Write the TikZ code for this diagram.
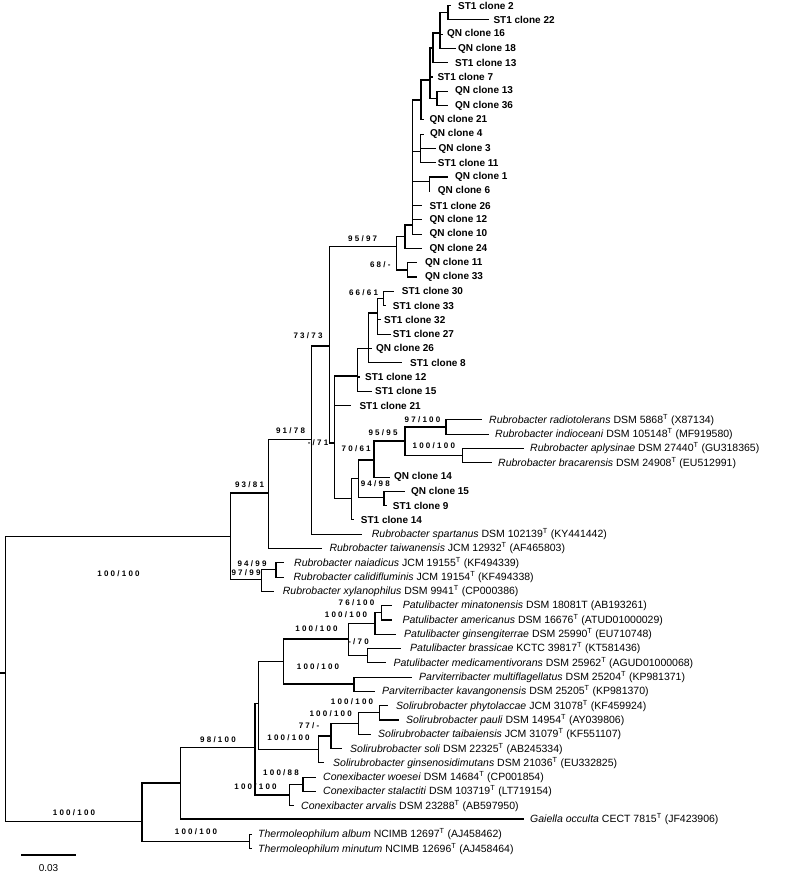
\documentclass[tikz,border=0pt]{standalone}
\usepackage{fontspec}
\setmainfont{Liberation Sans}
\newfontfamily\labfam{Liberation Sans}[LetterSpace=28]
\newcommand\hb[3]{\draw[br] (#1,#3) -- (#2,#3);}
\newcommand\vb[3]{\draw[br] (#1,#2) -- (#1,#3);}
\newcommand\cl[4]{\node[clone] (#1) at (#2,#3) {#4};}
\newcommand\spn[5]{\node[spc] (#1) at (#2,#3) {\textit{#4} #5};}
\newcommand\lb[3]{\node[lab] at (#1,#2) {#3};}
\newcommand\Ts{\textsuperscript{T}}
\tikzset{
  br/.style={line width=1.1pt, line cap=rect},
  clone/.style={anchor=west, inner sep=0pt, font=\bfseries\fontsize{10}{12}\selectfont},
  spc/.style={anchor=west, inner sep=0pt, font=\fontsize{10.5}{12}\selectfont},
  lab/.style={inner sep=0pt, font=\labfam\bfseries\fontsize{8}{9}\selectfont}
}
\begin{document}
\begin{tikzpicture}[x=1pt,y=-1pt]
\useasboundingbox (0,0) rectangle (785,876);
% ---- top clone clade
\vb{448}{5.5}{19.8}\hb{448}{488}{19.8}\hb{448}{450}{5.5}\hb{440}{448}{12.6}
\vb{440}{12.6}{48.4}\hb{440}{442}{34.1}\hb{440}{455}{48.4}\hb{433}{440}{33}
\vb{433}{33}{62.7}\hb{433}{447}{62.7}\hb{430}{433}{48}
\vb{430}{48}{98.4}\hb{430}{432}{77}\vb{437}{91.2}{105.5}\hb{437}{447}{91.2}\hb{437}{447}{105.5}\hb{430}{437}{98.4}
\hb{421}{430}{80}\vb{421}{80}{119.8}\hb{421}{423}{119.8}\hb{412.7}{421}{100}
\vb{412.7}{100}{234.2}
\vb{420.7}{134.1}{162.7}\hb{420.7}{423}{134.1}\hb{420.7}{435}{148.4}\hb{420.7}{435}{162.7}\hb{412.7}{420.7}{151.7}
\vb{429.3}{177}{191.3}\hb{429.3}{447}{177}\hb{412.7}{429.3}{181.7}
\hb{412.7}{421}{205.6}\hb{412.7}{421}{219.9}\hb{412.7}{421}{234.2}
\hb{405}{412.7}{225}\vb{405}{225}{248.4}\hb{405}{421}{248.4}\hb{396.7}{405}{236.7}
\vb{407.3}{262.7}{277}\hb{407.3}{416.7}{262.7}\hb{407.3}{416.7}{277}\hb{396.7}{407.3}{270}
\vb{396.7}{236.7}{270}\hb{329.3}{396.7}{246.7}
\vb{329.3}{246.7}{443}\hb{329.3}{334.3}{443}
% ---- clade A
\vb{334.3}{376}{498.3}\hb{334.3}{357.3}{376}
\vb{357.3}{348.5}{391.3}\hb{357.3}{359}{377}\hb{357.3}{371.7}{391.3}\hb{357.3}{368.3}{348.5}
\vb{368.3}{313}{362.8}\hb{368.3}{371}{348.5}\hb{368.3}{401}{362.8}\hb{368.3}{377.3}{313}
\vb{377.3}{298.4}{334.2}\hb{377.3}{380}{319.9}\hb{377.3}{390}{334.2}\hb{377.3}{383.3}{298.4}
\vb{383.3}{291.3}{305.6}\hb{383.3}{393}{291.3}\hb{383.3}{385}{305.6}
\hb{334.3}{350}{405.6}
% ---- clade B
\hb{334.3}{351.7}{498.3}\vb{351.7}{478.7}{519.9}\hb{351.7}{353}{519.9}\hb{351.7}{358.3}{478.7}
\vb{358.3}{460}{497.3}\hb{358.3}{374}{460}\hb{358.3}{384}{497.3}
\vb{374}{441}{477.1}\hb{374}{389}{477.1}\hb{374}{405}{441}
\vb{405}{427}{455.7}\hb{405}{446}{427}\hb{405}{462.3}{455.7}
\vb{446}{419.9}{434.2}\hb{446}{481}{419.9}\hb{446}{488}{434.2}
\vb{462.3}{448.5}{462.8}\hb{462.3}{523}{448.5}\hb{462.3}{491}{462.8}
\vb{384}{491.4}{505.6}\hb{384}{404}{491.4}\hb{384}{386}{505.6}
% ---- Rubrobacter backbone
\vb{311.7}{346}{534.2}\hb{311.7}{329.3}{346}\hb{311.7}{361.7}{534.2}
\vb{268.7}{439.3}{548.5}\hb{268.7}{311.7}{439.3}\hb{268.7}{321.7}{548.5}
\vb{230.7}{493}{579.7}\hb{230.7}{268.7}{493}\hb{230.7}{261.7}{579.7}
\vb{261.7}{569.9}{591.4}\hb{261.7}{273.3}{591.4}\hb{261.7}{276}{569.9}
\vb{276}{562.8}{577.1}\hb{276}{283.3}{562.8}\hb{276}{283.3}{577.1}
% ---- root
\vb{5.3}{536.7}{821.5}\hb{0}{5.3}{673}\hb{5.3}{230.7}{536.7}\hb{5.3}{142}{821.5}
\vb{142}{783}{841.5}\hb{142}{180.7}{783}\hb{142}{249.7}{841.5}
\vb{249.7}{834.3}{848.6}\hb{249.7}{251}{834.3}\hb{249.7}{251}{848.6}
\vb{180.7}{747.3}{819}\hb{180.7}{523.3}{819}\hb{180.7}{255}{747.3}
\vb{255}{703.3}{795}\hb{255}{258.3}{703.3}\hb{255}{289.3}{795}
\vb{258.3}{661.5}{749.5}\hb{258.3}{283.3}{661.5}\hb{258.3}{318.3}{749.5}
% Patulibacter / Parviterribacter
\vb{283.3}{639}{684}\hb{283.3}{348.3}{639}\hb{283.3}{354}{684}
\vb{348.3}{623.5}{655.6}\hb{348.3}{375}{623.5}\hb{348.3}{367.3}{655.6}
\vb{375}{612.8}{634.2}\hb{375}{381.7}{612.8}\hb{375}{395}{634.2}
\vb{381.7}{605.7}{620}\hb{381.7}{391.7}{605.7}\hb{381.7}{391.7}{620}
\vb{367.3}{648.5}{662.8}\hb{367.3}{400}{648.5}\hb{367.3}{385}{662.8}
\vb{354}{677.1}{691.4}\hb{354}{411}{677.1}\hb{354}{374}{691.4}
% Solirubrobacter
\vb{318.3}{736}{762.9}\hb{318.3}{323.3}{762.9}\hb{318.3}{331}{736}
\vb{331}{723.5}{748.6}\hb{331}{341}{748.6}\hb{331}{358.3}{723.5}
\vb{358.3}{712.8}{734.3}\hb{358.3}{370}{734.3}\hb{358.3}{379.3}{712.8}
\vb{379.3}{705.7}{720}\hb{379.3}{387}{705.7}\hb{379.3}{398}{720}
% Conexibacter
\vb{289.3}{784.3}{805.7}\hb{289.3}{293}{805.7}\hb{289.3}{303}{784.3}
\vb{303}{777.2}{791.4}\hb{303}{315}{777.2}\hb{303}{315}{791.4}
% scale bar
\draw[br] (22,855) -- (75.7,855);
\node[inner sep=0pt, font=\fontsize{10}{12}\selectfont] (sc) at (48.5,868) {0.03};
% ---- clone labels
\cl{c0}{458}{5.5}{ST1 clone 2}
\cl{c1}{493.3}{19.8}{ST1 clone 22}
\cl{c2}{447}{34.1}{QN clone 16}
\cl{c3}{458}{48.4}{QN clone 18}
\cl{c4}{455}{62.7}{ST1 clone 13}
\cl{c5}{437.3}{77}{ST1 clone 7}
\cl{c6}{455}{91.2}{QN clone 13}
\cl{c7}{455}{105.5}{QN clone 36}
\cl{c8}{429.3}{119.8}{QN clone 21}
\cl{c9}{430}{134.1}{QN clone 4}
\cl{c10}{438.3}{148.4}{QN clone 3}
\cl{c11}{437.7}{162.7}{ST1 clone 11}
\cl{c12}{455}{177}{QN clone 1}
\cl{c13}{437.7}{191.3}{QN clone 6}
\cl{c14}{429.3}{205.6}{ST1 clone 26}
\cl{c15}{429.3}{219.9}{QN clone 12}
\cl{c16}{429.3}{234.2}{QN clone 10}
\cl{c17}{429.3}{248.4}{QN clone 24}
\cl{c18}{425}{262.7}{QN clone 11}
\cl{c19}{425}{277}{QN clone 33}
\cl{c20}{401.7}{291.3}{ST1 clone 30}
\cl{c21}{392.7}{305.6}{ST1 clone 33}
\cl{c22}{384}{319.9}{ST1 clone 32}
\cl{c23}{392.7}{334.2}{ST1 clone 27}
\cl{c24}{376}{348.5}{QN clone 26}
\cl{c25}{410}{362.8}{ST1 clone 8}
\cl{c26}{365}{377}{ST1 clone 12}
\cl{c27}{375}{391.3}{ST1 clone 15}
\cl{c28}{359.3}{405.6}{ST1 clone 21}
\cl{c33}{394}{477.1}{QN clone 14}
\cl{c34}{411}{491.4}{QN clone 15}
\cl{c35}{392.7}{505.6}{ST1 clone 9}
\cl{c36}{360.7}{519.9}{ST1 clone 14}
% ---- species labels
\spn{s29}{489}{419.9}{Rubrobacter radiotolerans}{DSM 5868\Ts\ (X87134)}
\spn{s30}{495}{434.2}{Rubrobacter indioceani}{DSM 105148\Ts\ (MF919580)}
\spn{s31}{530}{448.5}{Rubrobacter aplysinae}{DSM 27440\Ts\ (GU318365)}
\spn{s32}{498}{462.8}{Rubrobacter bracarensis}{DSM 24908\Ts\ (EU512991)}
\spn{s37}{371.7}{534.2}{Rubrobacter spartanus}{DSM 102139\Ts\ (KY441442)}
\spn{s38}{329.3}{548.5}{Rubrobacter taiwanensis}{JCM 12932\Ts\ (AF465803)}
\spn{s39}{294}{562.8}{Rubrobacter naiadicus}{JCM 19155\Ts\ (KF494339)}
\spn{s40}{293.3}{577.1}{Rubrobacter calidifluminis}{JCM 19154\Ts\ (KF494338)}
\spn{s41}{282.7}{591.4}{Rubrobacter xylanophilus}{DSM 9941\Ts\ (CP000386)}
\spn{s42}{402.7}{605.7}{Patulibacter minatonensis}{DSM 18081T (AB193261)}
\spn{s43}{402.3}{620}{Patulibacter americanus}{DSM 16676\Ts\ (ATUD01000029)}
\spn{s44}{404}{634.2}{Patulibacter ginsengiterrae}{DSM 25990\Ts\ (EU710748)}
\spn{s45}{410}{648.5}{Patulibacter brassicae}{KCTC 39817\Ts\ (KT581436)}
\spn{s46}{393.3}{662.8}{Patulibacter medicamentivorans}{DSM 25962\Ts\ (AGUD01000068)}
\spn{s47}{419}{677.1}{Parviterribacter multiflagellatus}{DSM 25204\Ts\ (KP981371)}
\spn{s48}{382}{691.4}{Parviterribacter kavangonensis}{DSM 25205\Ts\ (KP981370)}
\spn{s49}{396}{705.7}{Solirubrobacter phytolaccae}{JCM 31078\Ts\ (KF459924)}
\spn{s50}{406}{720}{Solirubrobacter pauli}{DSM 14954\Ts\ (AY039806)}
\spn{s51}{378}{734.3}{Solirubrobacter taibaiensis}{JCM 31079\Ts\ (KF551107)}
\spn{s52}{350}{748.6}{Solirubrobacter soli}{DSM 22325\Ts\ (AB245334)}
\spn{s53}{333}{762.9}{Solirubrobacter ginsenosidimutans}{DSM 21036\Ts\ (EU332825)}
\spn{s54}{323}{777.2}{Conexibacter woesei}{DSM 14684\Ts\ (CP001854)}
\spn{s55}{323}{791.4}{Conexibacter stalactiti}{DSM 103719\Ts\ (LT719154)}
\spn{s56}{301}{805.7}{Conexibacter arvalis}{DSM 23288\Ts\ (AB597950)}
\spn{s57}{530}{819}{Gaiella occulta}{CECT 7815\Ts\ (JF423906)}
\spn{s58}{258}{834.3}{Thermoleophilum album}{NCIMB 12697\Ts\ (AJ458462)}
\spn{s59}{258}{848.6}{Thermoleophilum minutum}{NCIMB 12696\Ts\ (AJ458464)}
% ---- support values
\lb{362.7}{239}{95/97}
\lb{380.3}{264.3}{68/-}
\lb{363.5}{292.7}{66/61}
\lb{308}{336}{73/73}
\lb{290.5}{431}{91/78}
\lb{318}{442.5}{-/71}
\lb{422.5}{419.3}{97/100}
\lb{383}{432.7}{95/95}
\lb{433.8}{445.7}{100/100}
\lb{356.2}{449}{70/61}
\lb{375.3}{484}{94/98}
\lb{249.5}{485}{93/81}
\lb{252}{564}{94/99}
\lb{246}{573}{97/99}
\lb{118.5}{573.3}{100/100}
\lb{356.5}{603}{76/100}
\lb{346}{615}{100/100}
\lb{316.5}{628.5}{100/100}
\lb{358.5}{641.7}{-/70}
\lb{318}{667}{100/100}
\lb{352}{701.7}{100/100}
\lb{330.7}{714}{100/100}
\lb{309}{725.7}{77/-}
\lb{288.5}{737.7}{100/100}
\lb{218}{740}{98/100}
\lb{281}{773}{100/88}
\lb{255.5}{786.7}{100/100}
\lb{74}{812.7}{100/100}
\lb{196}{832}{100/100}
\end{tikzpicture}
\end{document}
